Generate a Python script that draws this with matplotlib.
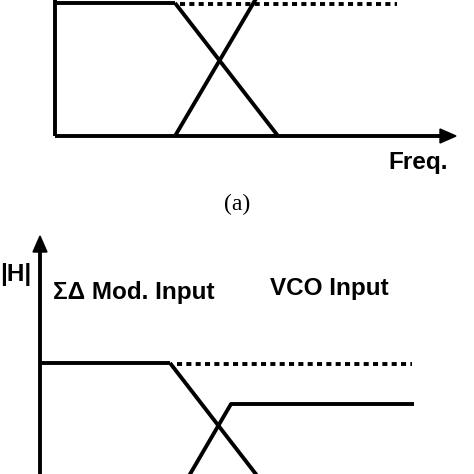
import matplotlib
matplotlib.use("Agg")
import matplotlib.pyplot as plt

# diagram drawn in pixel space of a 474x474 canvas (y grows downward)
W = 474

# panel (a): axes and responses
a_yaxis_x = [55, 55]
a_yaxis_y = [0, 136]
a_xaxis_x = [55, 442]
a_xaxis_y = [136, 136]
a_arrow_x = [440, 456, 440]
a_arrow_y = [129, 136, 143]
a_flat_x = [55, 175]
a_flat_y = [3, 3]
a_dash_x = [180, 397]
a_dash_y = [4, 4]
a_fall_x = [175, 278]
a_fall_y = [3, 136]
a_rise_x = [175, 257]
a_rise_y = [136, -3]

# panel (b)
b_yaxis_x = [40, 40]
b_yaxis_y = [250, 480]
b_arrow_x = [33, 40, 47]
b_arrow_y = [252, 236, 252]
b_flat_x = [40, 170]
b_flat_y = [363, 363]
b_dash_x = [177, 412]
b_dash_y = [364, 364]
b_fall_x = [170, 262]
b_fall_y = [363, 482]
b_rise_x = [186, 231, 414]
b_rise_y = [481, 404, 404]

LW = 2.8
sans = ["Liberation Sans Narrow", "Liberation Sans", "DejaVu Sans"]

fig = plt.figure(figsize=(4.74, 4.74), dpi=100)
ax = fig.add_axes([0, 0, 1, 1])
ax.set_xlim(0, W)
ax.set_ylim(W, 0)
ax.axis("off")

line_kw = dict(color="black", linewidth=LW, solid_capstyle="butt")
ax.plot(a_yaxis_x, a_yaxis_y, **line_kw)
ax.plot(a_xaxis_x, a_xaxis_y, **line_kw)
ax.fill(a_arrow_x, a_arrow_y, color="black")
ax.plot(a_flat_x, a_flat_y, **line_kw)
ax.plot(a_dash_x, a_dash_y, color="black", linewidth=LW, dashes=(1.3, 1.1))
ax.plot(a_fall_x, a_fall_y, **line_kw)
ax.plot(a_rise_x, a_rise_y, **line_kw)

ax.plot(b_yaxis_x, b_yaxis_y, **line_kw)
ax.fill(b_arrow_x, b_arrow_y, color="black")
ax.plot(b_flat_x, b_flat_y, **line_kw)
ax.plot(b_dash_x, b_dash_y, color="black", linewidth=LW, dashes=(1.3, 1.1))
ax.plot(b_fall_x, b_fall_y, **line_kw)
ax.plot(b_rise_x, b_rise_y, **line_kw)

ax.text(388, 162, "Freq.", fontsize=17.5, fontweight="bold", family=sans,
        ha="left", va="center")
ax.text(237, 204, "(a)", fontsize=17, family=["Liberation Serif", "DejaVu Serif"],
        ha="center", va="center")
ax.text(0, 274, "|H|", fontsize=17.5, fontweight="bold", family=sans,
        ha="left", va="center")
ax.text(53, 292, "ΣΔ Mod. Input", fontsize=17.5, fontweight="bold", family=sans,
        ha="left", va="center")
ax.text(270, 289, "VCO Input", fontsize=17.5, fontweight="bold", family=sans,
        ha="left", va="center")

fig.savefig("out.png", dpi=100)
